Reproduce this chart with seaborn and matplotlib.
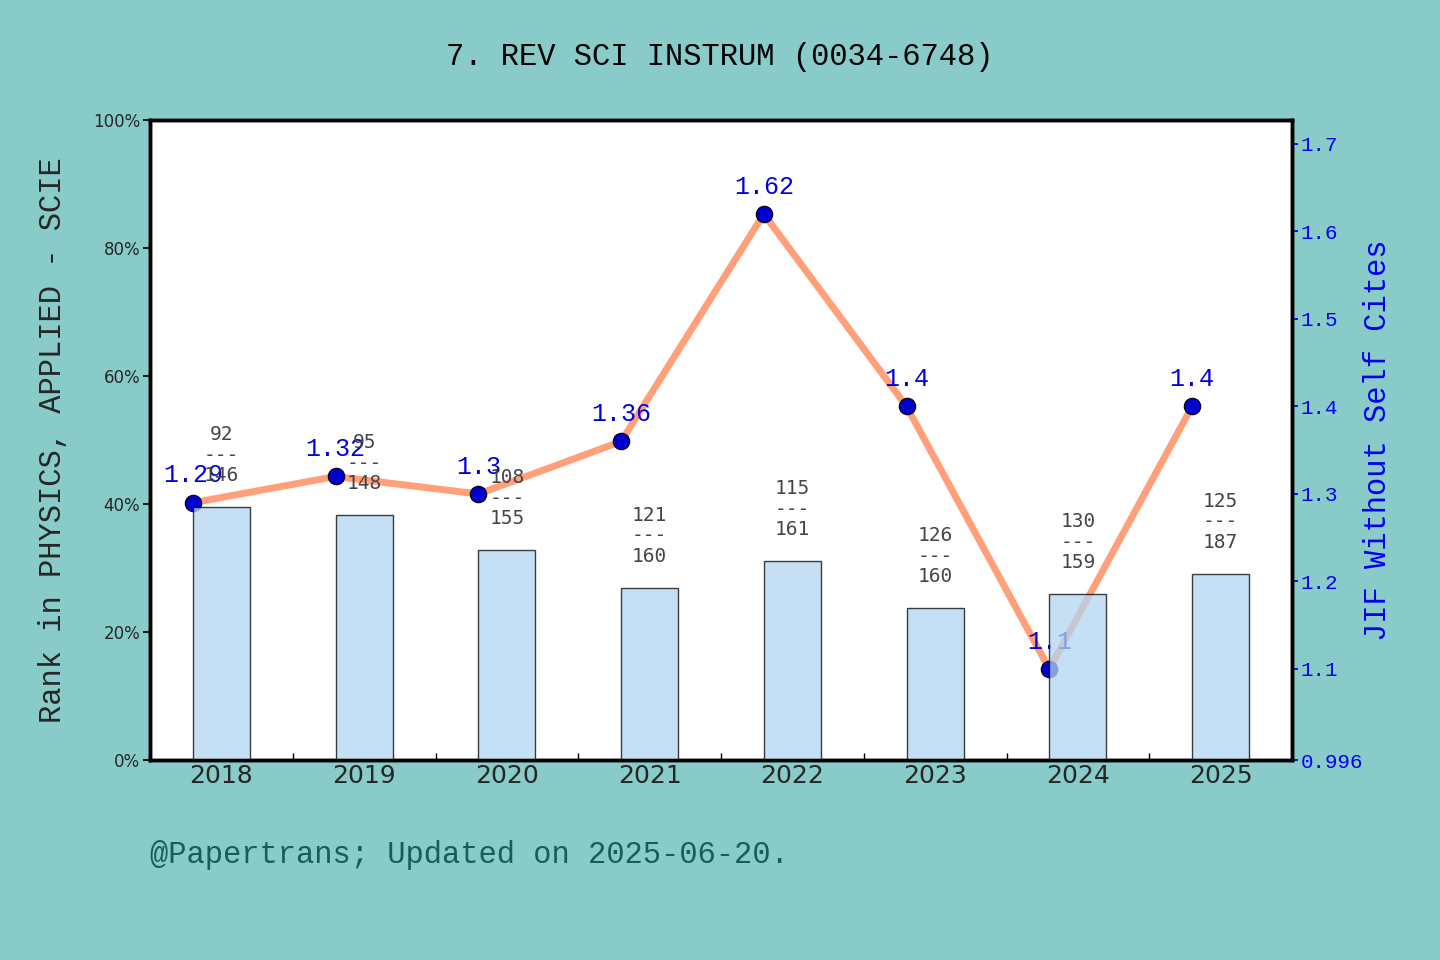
import matplotlib
matplotlib.use("Agg")
import matplotlib.pyplot as plt
import numpy as np
import pandas as pd
import seaborn as sns

years = ["2018", "2019", "2020", "2021", "2022", "2023", "2024", "2025"]
rank_pct = [0.395, 0.383, 0.328, 0.269, 0.311, 0.2375, 0.259, 0.291]
rank = [92, 95, 108, 121, 115, 126, 130, 125]
total = [146, 148, 155, 160, 161, 160, 159, 187]
jif = [1.29, 1.32, 1.3, 1.36, 1.62, 1.4, 1.1, 1.4]
jif_labels = ["1.29", "1.32", "1.3", "1.36", "1.62", "1.4", "1.1", "1.4"]

sns.set_theme(style="white")
mono = ["Liberation Mono", "DejaVu Sans Mono"]
bg = "#88cbc9"

fig = plt.figure(figsize=(14.4, 9.6), dpi=100, facecolor=bg)
ax = fig.add_axes([150 / 1440, 1 - 760 / 960, 1142 / 1440, 640 / 960])
ax2 = ax.twinx()

df = pd.DataFrame({"year": years, "pct": rank_pct, "jif": jif})
df["pos"] = np.arange(len(years)) - 0.2

# line on the twin axis, drawn underneath the bars
ax2.patch.set_visible(True)
ax2.set_facecolor("white")
sns.lineplot(data=df, x="pos", y="jif", ax=ax2, color="#ffa07a", linewidth=5, zorder=2)
sns.scatterplot(data=df, x="pos", y="jif", ax=ax2, color="#0000cc", edgecolor="black",
                linewidth=0.8, s=140, zorder=3)
for p, v, lab in zip(df["pos"], jif, jif_labels):
    ax2.annotate(lab, (p, v), xytext=(0, 11), textcoords="offset points", ha="center",
                 va="bottom", color="#0000dd", fontsize=18, family=mono, zorder=4)
ax2.set_ylim(0.996, 1.7274)
ax2.set_yticks([0.996, 1.1, 1.2, 1.3, 1.4, 1.5, 1.6, 1.7])
ax2.set_yticklabels(["0.996", "1.1", "1.2", "1.3", "1.4", "1.5", "1.6", "1.7"],
                    family=mono, fontsize=15, color="#0000ee")
ax2.tick_params(axis="y", direction="out", length=4, color="#0000ee", pad=2)
ax2.set_ylabel("JIF Without Self Cites", color="#0000ee", fontsize=22, family=mono, labelpad=0)

# bars on the primary axis, above the line
ax.set_zorder(ax2.get_zorder() + 1)
ax.patch.set_visible(False)
sns.barplot(data=df, x="year", y="pct", ax=ax, color="#b2d6f2", alpha=0.75,
            edgecolor="black", linewidth=1, width=0.4, saturation=1)
for i, (h, r, t) in enumerate(zip(rank_pct, rank, total)):
    ax.text(i, h + 0.081, f"{r}\n---\n{t}", ha="center", va="center", fontsize=14,
            color="#444444", linespacing=1.1, family="DejaVu Sans Mono")

ax.set_xlim(-0.5, len(years) - 0.5)
ax.set_ylim(0, 1)
ax.set_yticks([0, 0.2, 0.4, 0.6, 0.8, 1.0])
ax.set_yticklabels(["0%", "20%", "40%", "60%", "80%", "100%"], fontsize=12)
ax.tick_params(axis="y", direction="out", length=5, left=True, color="black", pad=2)
ax.set_xticks(range(len(years)))
ax.set_xticklabels(years, fontsize=18)
ax.tick_params(axis="x", which="major", length=0, pad=3)
ax.set_xticks(np.arange(len(years) - 1) + 0.5, minor=True)
ax.tick_params(axis="x", which="minor", direction="in", length=5, bottom=True, color="black")
ax.set_xlabel("")
ax.set_ylabel("Rank in PHYSICS, APPLIED - SCIE", fontsize=22, family=mono, labelpad=18)

for a in (ax, ax2):
    for s in a.spines.values():
        s.set_linewidth(2.5)
        s.set_color("black")

fig.text(0.5, 1 - 57 / 960, "7. REV SCI INSTRUM (0034-6748)", ha="center", va="center",
         fontsize=22, family=mono, color="black")
fig.text(150 / 1440, 1 - 855 / 960, "@Papertrans; Updated on 2025-06-20.", ha="left",
         va="center", fontsize=22, family=mono, color="#1a5c5a")

fig.savefig("out.png", dpi=100, facecolor=bg)
